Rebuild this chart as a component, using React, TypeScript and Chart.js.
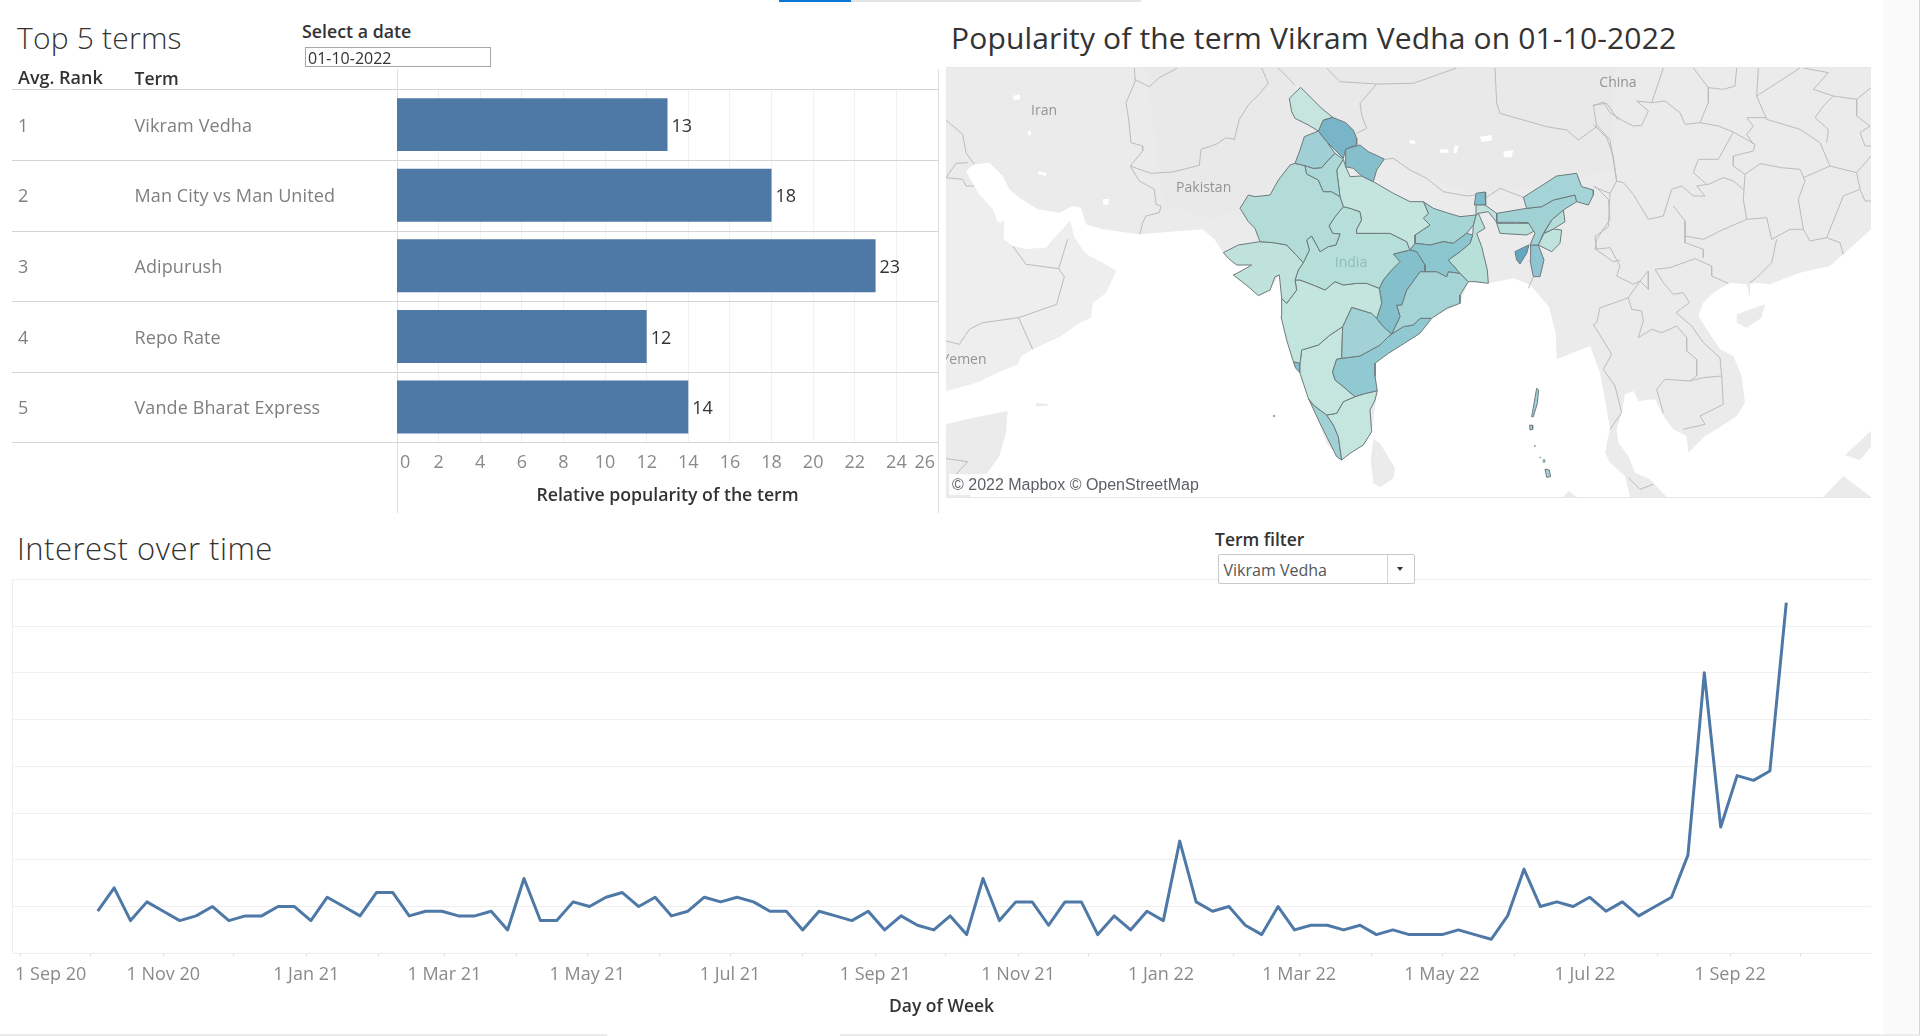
import React, { useEffect, useRef } from "react";
import { Chart, registerables } from "chart.js";

Chart.register(...registerables);

const FONT = '"Open Sans", "Noto Sans", sans-serif';

/* ---------- top 5 terms ---------- */
const ranks = ["1", "2", "3", "4", "5"];
const terms = ["Vikram Vedha", "Man City vs Man United", "Adipurush", "Repo Rate", "Vande Bharat Express"];
const popularity = [13, 18, 23, 12, 14];
const popularityTicks = [0, 2, 4, 6, 8, 10, 12, 14, 16, 18, 20, 22, 24, 26];

/* ---------- interest over time (weekly, Sundays) ---------- */
const firstWeek = "2020-10-04";
const interest = [
  9, 14, 7, 11, 9, 7, 8, 10, 7, 8,
  8, 10, 10, 7, 12, 10, 8, 13, 13, 8,
  9, 9, 8, 8, 9, 5, 16, 7, 7, 11,
  10, 12, 13, 10, 12, 8, 9, 12, 11, 12,
  11, 9, 9, 5, 9, 8, 7, 9, 5, 8,
  6, 5, 8, 4, 16, 7, 11, 11, 6, 11,
  11, 4, 8, 5, 9, 7, 24, 11, 9, 10,
  6, 4, 10, 5, 6, 6, 5, 6, 4, 5,
  4, 4, 4, 5, 4, 3, 8, 18, 10, 11,
  10, 12, 9, 11, 8, 10, 12, 21, 60, 27,
  38, 37, 39, 75,
];
const monthDates = [
  "2020-09-01", "2020-10-01", "2020-11-01", "2020-12-01", "2021-01-01", "2021-02-01", "2021-03-01",
  "2021-04-01", "2021-05-01", "2021-06-01", "2021-07-01", "2021-08-01", "2021-09-01", "2021-10-01",
  "2021-11-01", "2021-12-01", "2022-01-01", "2022-02-01", "2022-03-01", "2022-04-01", "2022-05-01",
  "2022-06-01", "2022-07-01", "2022-08-01", "2022-09-01", "2022-10-01",
];
const monthLabels = [
  "1 Sep 20", "", "1 Nov 20", "", "1 Jan 21", "", "1 Mar 21",
  "", "1 May 21", "", "1 Jul 21", "", "1 Sep 21", "",
  "1 Nov 21", "", "1 Jan 22", "", "1 Mar 22", "", "1 May 22",
  "", "1 Jul 22", "", "1 Sep 22", "",
];

/* ---------- map geometry (map units) ---------- */
const stateNames = [
  "Ladakh", "Himachal Pradesh", "Uttarakhand", "Punjab", "Haryana", "Rajasthan", "Uttar Pradesh", "Gujarat",
  "Madhya Pradesh", "Maharashtra", "Chhattisgarh", "Jharkhand", "Bihar", "West Bengal", "North Bengal", "Sikkim",
  "Odisha", "Telangana", "Andhra Pradesh", "Karnataka", "Goa", "Tamil Nadu", "Kerala", "Arunachal Pradesh",
  "Assam", "Meghalaya", "Nagaland", "Manipur", "Mizoram", "Tripura", "Andaman", "Little Andaman", "Nicobar",
];
const stateFills = [
  "#c5e5de", "#78b5c8", "#86bfcc", "#a0d0d5", "#acd8d7", "#b3dcd8", "#c4e5de", "#bfe3dc",
  "#b7dfd9", "#c2e5de", "#84bfcc", "#8cc6cf", "#a6d5d5", "#b7e0d9", "#c0e2dc", "#7fbccb",
  "#a4d4d5", "#a2d2d5", "#90c9d2", "#c4e6de", "#84bfcc", "#c4e6de", "#a0d1d4", "#a4d4d7",
  "#a0d1d5", "#b6dfd9", "#b5ddd9", "#c0e2dc", "#8fc5d2", "#63a8c0", "#a0d1d5", "#a0d1d5", "#a0d1d5",
];
const statePolygons = [
  [362,52,395,85,425,115,458,142,430,150,415,183,385,165,345,145,335,125,328,85],
  [458,142,497,158,520,180,530,205,530,225,497,237,490,265,465,240,440,215,415,183,430,150],
  [497,237,540,225,565,245,613,267,590,300,580,335,545,318,520,295,495,290],
  [415,183,440,215,465,250,445,270,425,293,400,295,375,287,345,280,360,240,373,200],
  [375,287,400,295,425,293,445,270,465,250,490,268,470,300,475,340,480,380,455,365,430,365,415,330,380,312],
  [330,285,345,280,375,287,380,312,415,330,430,365,455,365,480,380,490,410,465,440,447,468,458,490,480,492,468,525,445,530,420,545,410,525,395,498,380,510,388,540,370,578,320,525,280,518,240,515,225,475,205,455,180,415,205,375,225,380,270,375,295,330],
  [490,268,497,290,510,320,545,318,580,335,640,370,690,395,730,395,745,430,730,445,750,465,705,495,705,520,690,540,680,515,630,490,590,490,530,490,530,478,545,450,540,425,510,415,490,410,480,380,475,340,470,300],
  [130,548,175,525,240,515,280,518,320,525,370,578,355,600,345,630,350,660,320,700,305,685,298,615,285,620,270,660,235,677,205,650,160,615,180,605,215,585,170,585,145,565],
  [370,578,388,540,380,510,395,498,410,525,420,545,445,530,468,525,480,492,458,490,447,468,465,440,490,410,510,415,540,425,545,450,530,478,530,490,590,490,630,490,680,515,690,540,640,552,660,575,635,600,610,630,598,655,560,640,530,640,490,645,465,635,435,660,400,645,360,630,345,630,355,600],
  [345,630,360,630,400,645,435,660,465,635,490,645,530,640,560,640,598,655,605,700,590,745,575,730,515,712,488,770,450,795,415,825,365,840,360,880,340,875,320,810,303,740,305,685,320,700,350,660],
  [640,552,690,540,710,545,735,585,735,605,720,605,695,640,680,660,665,705,650,705,660,740,635,792,610,770,590,745,605,700,598,655,610,630,635,600,660,575],
  [705,520,750,525,790,515,820,520,860,490,878,495,870,520,840,545,805,570,840,610,805,605,800,620,770,605,735,605,735,585,710,545,690,540],
  [730,395,760,415,800,428,840,440,888,435,880,465,860,490,820,520,790,515,750,525,705,520,705,495,750,465,730,445,745,430],
  [888,435,895,430,915,475,890,490,905,530,922,600,925,640,885,635,865,635,840,610,805,570,840,545,870,520,878,495,880,465],
  [888,405,915,405,950,430,950,457,925,425,895,430,888,435],
  [888,370,915,366,917,405,883,405],
  [735,605,770,605,800,620,805,605,840,610,865,635,840,675,840,700,800,715,755,745,720,745,700,765,670,770,635,792,660,740,650,705,665,705,680,660,695,640,720,605],
  [515,712,575,730,590,745,610,770,635,792,625,800,600,825,540,858,485,865,488,770],
  [635,792,670,770,700,765,720,745,755,745,720,790,665,825,625,850,585,880,585,920,592,962,550,972,525,980,490,950,465,930,458,905,470,868,485,865,540,858,600,825,625,800],
  [365,840,415,825,450,795,488,770,485,865,470,868,458,905,465,930,490,950,525,980,490,995,470,1030,440,1035,400,1005,385,985,360,910,360,880],
  [340,875,360,880,360,908,347,895],
  [592,962,585,990,570,1020,575,1085,550,1125,510,1150,485,1170,475,1100,460,1065,440,1035,470,1030,490,995,525,980,550,972],
  [385,985,400,1005,440,1035,460,1065,475,1100,485,1170,470,1160,450,1120,420,1060],
  [1030,382,1080,350,1130,318,1190,310,1205,350,1240,360,1240,375,1225,405,1190,395,1185,375,1120,390,1085,410,1040,415],
  [950,430,1040,415,1085,410,1120,390,1185,375,1190,395,1150,420,1115,450,1090,490,1075,525,1050,525,1065,490,1045,458,1010,457,950,457],
  [950,460,1010,460,1045,460,1065,482,1040,495,960,490],
  [1115,450,1150,420,1155,455,1120,477,1092,490],
  [1092,490,1120,477,1145,480,1140,520,1115,545,1075,525],
  [1052,525,1075,525,1092,570,1080,620,1060,620,1050,570],
  [1005,545,1035,530,1047,525,1040,550,1020,582,1010,570],
  [1070,955,1076,960,1072,1000,1060,1040,1055,1040,1062,1000],
  [1049,1065,1058,1066,1058,1078,1050,1080],
  [1095,1197,1108,1200,1112,1220,1100,1222],
];
const smallIslands = [
  [279,1035,285,1035,285,1041,279,1041], [1062,1125,1067,1125,1067,1131,1062,1131],
  [1078,1160,1083,1160,1083,1165,1078,1165], [1088,1168,1096,1168,1096,1178,1088,1178],
];

const landMain = [
  -702,-6, 2073,-6, 2073,478, 1990,553, 1950,588, 1860,608, 1770,643, 1725,638, 1710,643, 1710,683, 1700,643,
  1650,638, 1600,668, 1570,698, 1555,738, 1580,778, 1620,838, 1660,858, 1685,918, 1695,998, 1670,1038, 1610,1078,
  1575,1098, 1525,1148, 1520,1098, 1480,1078, 1450,1038, 1425,988, 1375,993, 1360,963, 1335,973, 1325,1028,
  1310,1078, 1315,1118, 1345,1158, 1365,1208, 1410,1228, 1460,1281, 1350,1281, 1335,1218, 1290,1178, 1275,1148,
  1285,1098, 1290,1078, 1275,988, 1260,908, 1230,828, 1130,868, 1127,789, 1107,711, 1052,645, 1000,625, 925,640,
  865,635, 840,700, 755,745, 665,825, 585,880, 592,962, 575,1085, 485,1170, 440,1120, 360,910, 320,810, 303,740,
  305,690, 298,615, 270,660, 235,677, 160,615, 215,585, 145,565, 130,548, 103,508, 68,478, -2,483, -122,493, -232,478,
  -282,463, -297,413, -322,408, -362,428, -427,418, -482,383, -512,358, -532,318, -572,278, -617,283, -642,303,
  -607,368, -562,418, -547,458, -527,453, -530,508, -502,528, -462,538, -402,533, -362,488, -330,453, -317,503,
  -282,553, -232,578, -192,603, -222,668, -262,698, -267,743, -302,758, -357,798, -442,838, -477,858, -487,883,
  -537,903, -612,938, -702,963,
];
const landSomalia = [-702,1063, -642,1048, -517,1023, -522,1088, -542,1158, -577,1208, -632,1281, -702,1281];
const landSocotra = [-432,1000, -395,1002, -400,1008, -430,1008];
const landSriLanka = [580,1108, 600,1120, 645,1195, 640,1225, 600,1252, 580,1240, 572,1170];
const landHainan = [1670,733, 1755,703, 1745,743, 1700,773, 1670,758];
const landSumatra = [1150,1281, 1165,1262, 1190,1281];
const landBorneo = [1930,1281, 1990,1218, 2073,1281];
const landSarawak = [1995,1155, 2073,1083, 2073,1130, 2040,1170];
const lands = [landMain, landSomalia, landSocotra, landSriLanka, landHainan, landSumatra, landBorneo, landSarawak];
const shadeHigh = [-100,-6, 1300,-6, 1300,300, 1040,355, 890,370, 740,325, 600,250, 330,285, 180,415, 100,450, -50,400];
const shadeArabia = [
  -702,323, -617,348, -607,368, -562,418, -547,458, -527,453, -530,508, -502,528, -462,538, -402,533, -362,488, -330,453,
  -317,503, -282,553, -232,578, -192,603, -222,668, -262,698, -267,743, -302,758, -357,798, -442,838, -477,858, -487,883,
  -537,903, -612,938, -702,963,
];
const lakes = [
  [900,200,935,195,935,212,905,215], [970,245,1000,240,995,262,972,262], [780,238,805,238,805,248,782,248],
  [825,225,835,228,830,250,820,248], [690,210,705,212,705,222,690,220], [-502,78,-480,73,-480,88,-497,91],
  [-232,388,-212,386,-217,406,-230,403], [-457,183,-447,183,-447,196,-455,196], [-427,303,-402,308,-402,318,-424,313],
];

const borderLinesWest = [
  [-137,-6,-134,33,-162,98,-154,148,-147,218,-112,228,-112,243,-149,288,-122,333,-77,358,-72,403,-57,408,-62,428,-102,438,-112,458,-120,493],
  [-137,28,-92,50,-62,23,-7,-6],
  [-149,288,-87,310,-22,306,58,286,63,238,108,223,138,203,163,208,178,148,205,105,240,70,265,40,245,-6],
  [295,-6,345,45],
  [440,-6,480,35,590,42,700,40,830,-6],
  [590,42,540,100,545,135,560,175,530,190],
  [615,268,640,265,690,300,740,325,790,365,860,378,888,375],
  [915,385,960,355,1020,378,1035,385],
  [945,-6,950,100,960,130,1100,170,1160,180,1195,210,1250,170,1240,105,1280,100,1315,150],
  [1240,350,1290,370,1285,470,1245,500,1250,540,1300,575,1320,570],
  [1250,165,1290,210,1300,270,1310,333,1290,370],
  [1045,655,1060,620],
  [-502,528,-462,583,-364,596,-347,620,-370,703,-484,743,-592,758,-632,778,-662,823,-702,813],
  [-484,743,-442,838],
  [-364,596,-350,550,-337,508],
  [-702,150,-652,193,-642,248,-617,283],
  [-702,323,-672,280,-637,278],
  [-702,323,-652,328,-642,348,-617,348],
  [-702,1166,-637,1175,-672,1213],
];
const eastOrigin = [1230, -12];
const borderLinesEast = [
  [10,175,50,215,70,270,80,345,100,350,130,385,175,460,220,450,245,370,275,360,310,390,345,390,320,360,355,355,400,335,430,345,460,370],
  [10,120,40,108,60,140,100,165,130,180,155,178,175,135,140,105,185,110,225,105,270,140,285,175,330,170,385,180,430,198,495,235,490,255,430,270,430,300,465,325],
  [430,198,385,280,325,280,310,320,350,355],
  [465,325,510,293,575,305,630,310,645,345,625,400,640,490],
  [465,325,460,400,470,460,390,495,340,520,285,510],
  [250,420,285,465,285,530,340,550,340,575],
  [195,610,240,605,315,578,365,600,365,630,415,652],
  [470,460,530,455,545,520,600,490,640,490,660,525,710,515,750,530,760,565],
  [560,520,545,590,500,635,480,650],
  [640,335,720,300,800,320,810,370,760,390,710,515],
  [500,90,630,6],
  [500,90,530,160,630,190,690,230,720,300],
  [470,155,530,155],
  [470,155,490,180,470,205,490,235],
  [505,6,500,90],
  [310,6,355,65,400,70,435,60,440,6],
  [355,65,355,110,330,170],
  [220,6,185,110],
  [640,6,715,20,670,70,730,90,700,120,675,155,715,190,710,230],
  [730,90,800,100,843,65],
  [800,320,843,270],
  [810,370,825,405,843,405],
  [800,100,800,150,840,180,810,200,825,240,843,240],
  [15,360,55,400,60,460,20,520,15,550,60,545,90,600,80,630,130,655,150,645,175,615],
  [175,615,175,670,150,645,115,695,125,730,155,735,160,765,145,815,185,790,215,800,260,780,290,815,290,855,320,880,320,930,300,945],
  [115,695,75,710,30,725,20,770,10,775,50,840,65,865,40,910,75,960,95,1040,60,1090],
  [195,610,220,650,250,685,280,680,298,710,258,740,305,780,340,830,390,875,395,930,400,1015,330,1050,345,1075,280,1090],
  [395,930,340,935,300,945,225,940,200,970,220,1040],
  [115,1235,150,1270,190,1255],
];
const mapLabelTexts = ["Iran", "Pakistan", "China", "Yemen", "India"];
const mapLabelX = [-408, 71, 1314, -648, 513];
const mapLabelY = [122, 353, 38, 870, 580];

/* ---------- helpers ---------- */
const toPoints = (flat: number[], dx = 0, dy = 0) => {
  const out: { x: number; y: number }[] = [];
  for (let i = 0; i < flat.length; i += 2) out.push({ x: flat[i] + dx, y: flat[i + 1] + dy });
  return out;
};
const closed = (flat: number[]) => {
  const p = toPoints(flat);
  p.push({ ...p[0] });
  return p;
};
const DAY = 86400000;
const origin = Date.parse("2020-09-01");
const dayOf = (d: string) => (Date.parse(d) - origin) / DAY;
const weekDays = interest.map((_, i) => dayOf(firstWeek) + 7 * i);

const noLegend = { legend: { display: false }, tooltip: { enabled: false }, title: { display: false } };

function useChart(make: (c: HTMLCanvasElement) => Chart) {
  const ref = useRef<HTMLCanvasElement>(null);
  useEffect(() => {
    const chart = make(ref.current!);
    return () => chart.destroy();
  }, []);
  return ref;
}

/* ---------- bar chart with its table ---------- */
const tablePlugin = {
  id: "rowTable",
  beforeDatasetsDraw(chart: any) {
    const { ctx, chartArea: a, scales } = chart;
    const y = scales.y;
    const rowH = (a.bottom - a.top) / terms.length;
    ctx.save();
    ctx.strokeStyle = "#d4d4d4";
    ctx.lineWidth = 1;
    for (let i = 0; i <= terms.length; i++) {
      const py = Math.round(a.top + i * rowH) + 0.5;
      ctx.beginPath();
      ctx.moveTo(12, py);
      ctx.lineTo(a.right, py);
      ctx.stroke();
    }
    ctx.strokeStyle = "#dddddd";
    for (const px of [a.left, a.right]) {
      ctx.beginPath();
      ctx.moveTo(Math.round(px) + 0.5, 9);
      ctx.lineTo(Math.round(px) + 0.5, 453);
      ctx.stroke();
    }
    ctx.fillStyle = "#7f7f7f";
    ctx.font = `18px ${FONT}`;
    ctx.letterSpacing = "0.1px";
    ctx.textBaseline = "middle";
    terms.forEach((t, i) => {
      const py = y.getPixelForTick(i) + 2;
      ctx.fillText(ranks[i], 18, py);
      ctx.fillText(t, 134.5, py);
    });
    ctx.restore();
  },
  afterDatasetsDraw(chart: any) {
    const { ctx } = chart;
    ctx.save();
    ctx.fillStyle = "#333333";
    ctx.font = `18px ${FONT}`;
    ctx.textBaseline = "middle";
    chart.getDatasetMeta(0).data.forEach((bar: any, i: number) => {
      ctx.fillText(String(popularity[i]), bar.x + 4, bar.y + 2);
    });
    ctx.restore();
  },
};

function makeBars(canvas: HTMLCanvasElement) {
  const last = popularityTicks.length - 1;
  return new Chart(canvas, {
    type: "bar",
    data: {
      labels: terms,
      datasets: [{ data: popularity, backgroundColor: "#4e79a7", barPercentage: 0.75, categoryPercentage: 1 }],
    },
    options: {
      indexAxis: "y",
      animation: false,
      responsive: false,
      maintainAspectRatio: false,
      layout: { padding: { left: 397, right: 22, top: 29.3, bottom: 0 } },
      plugins: noLegend,
      scales: {
        x: {
          min: 0,
          max: 26,
          afterFit: (s: any) => { s.height = 77.7; },
          afterBuildTicks: (s: any) => {
            s.ticks = popularityTicks.map((v, i) => ({ value: i === 0 ? 0.14 : i === last ? 25.86 : v }));
          },
          grid: {
            drawTicks: false,
            color: (c: any) => (c.index === 0 || c.index === last ? "rgba(0,0,0,0)" : "#f1f1f1"),
          },
          border: { display: false },
          ticks: {
            align: "inner",
            padding: 10,
            autoSkip: false,
            maxRotation: 0,
            color: "#8a8a8a",
            font: { family: FONT, size: 18 },
            callback: (_: any, i: number) => String(popularityTicks[i]),
          },
          title: {
            display: true,
            text: "Relative popularity of the term",
            color: "#333333",
            font: { family: FONT, size: 17.7, weight: "600" },
            padding: { top: 0, bottom: 13 },
          },
        },
        y: { display: false },
      },
    } as any,
    plugins: [tablePlugin as any],
  });
}

/* ---------- line chart ---------- */
function makeLine(canvas: HTMLCanvasElement) {
  const tickDays = monthDates.map(dayOf);
  return new Chart(canvas, {
    type: "line",
    data: {
      datasets: [{
        data: interest.map((v, i) => ({ x: weekDays[i], y: v })),
        borderColor: "#4e79a7",
        borderWidth: 3,
        pointRadius: 0,
        tension: 0,
        borderJoinStyle: "round",
      }],
    },
    options: {
      animation: false,
      responsive: false,
      maintainAspectRatio: false,
      layout: { padding: { left: 12.5, right: 13.4, top: 9.3, bottom: 0 } },
      plugins: noLegend,
      scales: {
        x: {
          type: "linear",
          min: -3.4,
          max: 790,
          afterFit: (s: any) => { s.height = 82.7; },
          afterBuildTicks: (s: any) => {
            s.ticks = [{ value: -2.3 }, ...tickDays.map((d) => ({ value: d }))];
          },
          grid: {
            drawOnChartArea: false,
            drawTicks: true,
            tickLength: 3,
            tickColor: (c: any) => (c.index === 0 ? "rgba(0,0,0,0)" : "#dddddd"),
          },
          border: { color: "#efefef" },
          ticks: {
            autoSkip: false,
            maxRotation: 0,
            align: "inner",
            padding: 8,
            color: "#8a8a8a",
            font: { family: FONT, size: 18 },
            callback: (_: any, i: number) => (i === 0 ? monthLabels[0] : i === 1 ? "" : monthLabels[i - 1]),
          },
          title: {
            display: true,
            text: "Day of Week",
            color: "#333333",
            font: { family: FONT, size: 17.5, weight: "600" },
            padding: { top: 0, bottom: 18 },
          },
        },
        y: {
          min: 0,
          max: 80,
          afterFit: (s: any) => { s.width = 0; },
          grid: { color: "#efefef", drawTicks: false },
          border: { color: "#efefef" },
          ticks: { display: false, stepSize: 10 },
        },
      },
    } as any,
  });
}

/* ---------- map ---------- */
const mapLabelPlugin = {
  id: "mapLabels",
  afterDatasetsDraw(chart: any) {
    const { ctx, scales } = chart;
    ctx.save();
    ctx.font = `14px ${FONT}`;
    ctx.textAlign = "center";
    ctx.textBaseline = "middle";
    mapLabelTexts.forEach((t, i) => {
      ctx.fillStyle = t === "India" ? "rgba(110,160,165,0.55)" : "#949494";
      ctx.fillText(t, scales.x.getPixelForValue(mapLabelX[i]), scales.y.getPixelForValue(mapLabelY[i]));
    });
    ctx.restore();
  },
};

function makeMap(canvas: HTMLCanvasElement) {
  const poly = (flat: number[], fill: string, stroke: string | null, order: number, label?: string) => ({
    label,
    data: closed(flat),
    showLine: true,
    fill: "shape",
    backgroundColor: fill,
    borderColor: stroke ?? "rgba(0,0,0,0)",
    borderWidth: stroke ? 1 : 0,
    pointRadius: 0,
    tension: 0,
    order,
  });
  const line = (pts: { x: number; y: number }[], order: number) => ({
    data: pts,
    showLine: true,
    fill: false,
    borderColor: "#bcbcbc",
    borderWidth: 1,
    pointRadius: 0,
    tension: 0,
    order,
  });
  const datasets = [
    ...statePolygons.map((p, i) => poly(p, stateFills[i], "#6e7a7c", 1, stateNames[i])),
    ...smallIslands.map((p) => poly(p, "#8fa8ab", null, 1)),
    ...borderLinesWest.map((p) => line(toPoints(p), 2)),
    ...borderLinesEast.map((p) => line(toPoints(p, eastOrigin[0], eastOrigin[1]), 2)),
    ...lakes.map((p) => poly(p, "#ffffff", null, 3)),
    poly(shadeHigh, "#e9e9e9", null, 4),
    poly(shadeArabia, "#eeeeee", null, 4),
    ...lands.map((p) => poly(p, "#ebebeb", null, 5)),
  ];
  return new Chart(canvas, {
    type: "scatter",
    data: { datasets },
    options: {
      animation: false,
      responsive: false,
      maintainAspectRatio: false,
      plugins: noLegend,
      layout: { padding: 0 },
      scales: {
        x: { type: "linear", min: -702, max: 2073, display: false },
        y: { type: "linear", min: -6, max: 1281, reverse: true, display: false },
      },
    } as any,
    plugins: [mapLabelPlugin as any],
  });
}

/* ---------- page ---------- */
const Text = ({ x, y, size, weight = 400, color = "#333", family = FONT, spacing = 0, children }: any) => (
  <div
    style={{
      position: "absolute", left: x, top: y, transform: "translateY(-50%)", whiteSpace: "nowrap",
      fontFamily: family, fontSize: size, fontWeight: weight, color, letterSpacing: spacing, lineHeight: 1.2,
    }}
  >
    {children}
  </div>
);
const Box = ({ x, y, w, h, c, style }: any) => (
  <div style={{ position: "absolute", left: x, top: y, width: w, height: h, background: c, ...style }} />
);

export default function App() {
  const bars = useChart(makeBars);
  const line = useChart(makeLine);
  const map = useChart(makeMap);
  useEffect(() => {
    document.body.style.margin = "0";
    document.body.style.background = "#fff";
    document.body.style.overflow = "hidden";
  }, []);
  return (
    <div style={{ position: "relative", width: 1920, height: 1036, overflow: "hidden", background: "#fff" }}>
      <Box x={779} y={0} w={72} h={2} c="#0b76d8" />
      <Box x={851} y={0} w={290} h={2} c="#e4e4e4" />
      <Box x={1883} y={0} w={36} h={1034} c="#fafafa" />
      <Box x={1919} y={0} w={1} h={1036} c="#d6d6d6" />
      <Box x={0} y={1034} w={607} h={2} c="#ececec" />
      <Box x={840} y={1034} w={1080} h={2} c="#ececec" />

      <canvas ref={bars} width={960} height={460} style={{ position: "absolute", left: 0, top: 60 }} />
      <canvas ref={map} width={925} height={429} style={{ position: "absolute", left: 946, top: 68, boxShadow: "0 -1px #e6e6e6, 0 1px #e6e6e6" }} />
      <canvas ref={line} width={1884} height={466} style={{ position: "absolute", left: 0, top: 570 }} />

      <Text x={17} y={38} size={30} weight={300} spacing={0.2}>Top 5 terms</Text>
      <Text x={302} y={32} size={17.8} weight={600}>Select a date</Text>
      <div style={{ position: "absolute", left: 305, top: 47, width: 184, height: 18, border: "1px solid #a8a8a8", boxSizing: "content-box" }} />
      <Text x={308} y={58.5} size={16} color="#333">01-10-2022</Text>
      <Text x={18} y={77.5} size={18} weight={600}>Avg. Rank</Text>
      <Text x={134.5} y={77.5} size={17.5} weight={600}>Term</Text>

      <Text x={951} y={38} size={30} weight={500} spacing={0.15}>Popularity of the term Vikram Vedha on 01-10-2022</Text>
      <div style={{ position: "absolute", left: 949, top: 474, width: 253, height: 21, background: "rgba(255,255,255,0.85)" }} />
      <Text x={952} y={484.7} size={16} color="#5b5f66" family='"Liberation Sans", Arial, sans-serif'>© 2022 Mapbox © OpenStreetMap</Text>

      <Text x={17} y={549} size={31} weight={300} spacing={0.5}>Interest over time</Text>
      <Text x={1215} y={538.7} size={17.5} weight={600}>Term filter</Text>
      <div style={{ position: "absolute", left: 1218, top: 554, width: 195, height: 28, border: "1px solid #c8c8c8", borderRadius: 2, background: "#fff" }} />
      <Box x={1387} y={555} w={1} h={28} c="#d4d4d4" />
      <Text x={1223.5} y={571} size={16} color="#555">Vikram Vedha</Text>
      <div style={{ position: "absolute", left: 1397, top: 567, width: 0, height: 0, borderLeft: "3px solid transparent", borderRight: "3px solid transparent", borderTop: "4px solid #333" }} />
    </div>
  );
}
